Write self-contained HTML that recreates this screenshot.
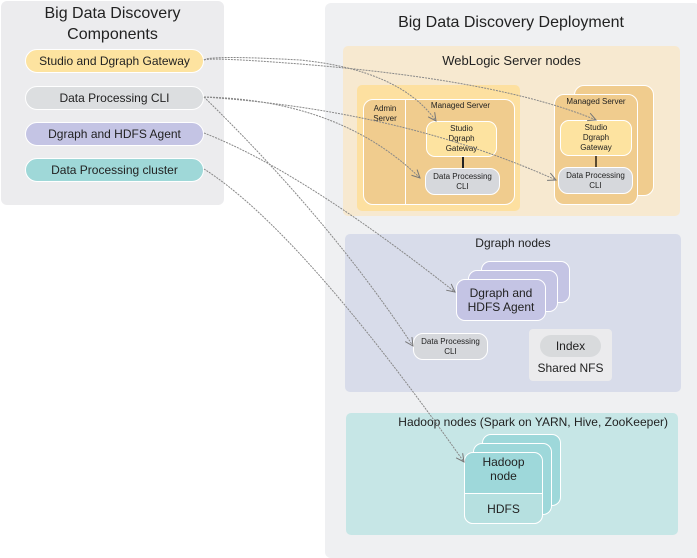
<!DOCTYPE html>
<html><head><style>
body{margin:0;width:697px;height:554px;background:#fff;position:relative;overflow:hidden;font-family:"Liberation Sans",Arial,sans-serif;color:#222}
.a{position:absolute;box-sizing:border-box}
.c{display:flex;align-items:center;justify-content:center;text-align:center}
.pill{border-radius:12px;border:1px solid #fff;font-size:12px}
</style></head><body>
<div class="a" style="left:1px;top:1px;width:223px;height:204px;background:#ececee;border-radius:6px"></div>
<div class="a" style="left:1px;top:3px;width:223px;text-align:center;font-size:16px;line-height:21px">Big Data Discovery<br>Components</div>
<div class="a c pill" style="left:25px;top:49px;width:179px;height:24px;background:#fde3a0">Studio and Dgraph Gateway</div>
<div class="a c pill" style="left:25px;top:86px;width:179px;height:24px;background:#dcdee0">Data Processing CLI</div>
<div class="a c pill" style="left:25px;top:122px;width:179px;height:24px;background:#c4c4e4">Dgraph and HDFS Agent</div>
<div class="a c pill" style="left:25px;top:158px;width:179px;height:24px;background:#9fd8d8">Data Processing cluster</div>

<div class="a" style="left:325px;top:3px;width:375px;height:555px;background:#eff0f2;border-radius:6px"></div>
<div class="a" style="left:325px;top:14px;width:372px;text-align:center;font-size:16px">Big Data Discovery Deployment</div>

<div class="a" style="left:343px;top:46px;width:337px;height:170px;background:#f7e9d0;border-radius:5px"></div>
<div class="a" style="left:343px;top:53px;width:337px;text-align:center;font-size:13px">WebLogic Server nodes</div>
<div class="a" style="left:357px;top:85px;width:163px;height:126px;background:#fde0a0;border-radius:5px"></div>
<div class="a" style="left:363px;top:99px;width:152px;height:106px;background:#f0cc8e;border:1px solid #fff;border-radius:10px"></div>
<div class="a" style="left:405px;top:99px;width:1px;height:106px;background:#fff"></div>
<div class="a" style="left:365px;top:104px;width:40px;text-align:center;font-size:8px;line-height:10px">Admin<br>Server</div>
<div class="a" style="left:406px;top:101px;width:109px;text-align:center;font-size:8px">Managed Server</div>
<div class="a c" style="left:426px;top:121px;width:71px;height:36px;background:#fde3a0;border:1px solid #fff;border-radius:9px;font-size:8px;line-height:10px">Studio<br>Dgraph<br>Gateway</div>
<div class="a" style="left:462px;top:157px;width:2px;height:11px;background:#222"></div>
<div class="a c" style="left:425px;top:168px;width:75px;height:27px;background:#d6d8dc;border:1px solid #fff;border-radius:10px;font-size:8px;line-height:10px">Data Processing<br>CLI</div>

<div class="a" style="left:574px;top:85px;width:80px;height:111px;background:#f0cc8e;border:1px solid #fff;border-radius:10px"></div>
<div class="a" style="left:554px;top:94px;width:84px;height:111px;background:#f0cc8e;border:1px solid #fff;border-radius:10px"></div>
<div class="a" style="left:554px;top:97px;width:84px;text-align:center;font-size:8px">Managed Server</div>
<div class="a c" style="left:560px;top:120px;width:72px;height:36px;background:#fde3a0;border:1px solid #fff;border-radius:9px;font-size:8px;line-height:10px">Studio<br>Dgraph<br>Gateway</div>
<div class="a" style="left:595px;top:156px;width:2px;height:11px;background:#5a4a30"></div>
<div class="a c" style="left:558px;top:167px;width:75px;height:27px;background:#d6d8dc;border:1px solid #fff;border-radius:10px;font-size:8px;line-height:10px">Data Processing<br>CLI</div>

<div class="a" style="left:345px;top:234px;width:336px;height:158px;background:#d8dcea;border-radius:5px"></div>
<div class="a" style="left:345px;top:236px;width:336px;text-align:center;font-size:12px">Dgraph nodes</div>
<div class="a" style="left:481px;top:261px;width:89px;height:42px;background:#c4c4e4;border:1px solid #fff;border-radius:9px"></div>
<div class="a" style="left:468px;top:270px;width:90px;height:42px;background:#c4c4e4;border:1px solid #fff;border-radius:9px"></div>
<div class="a c" style="left:456px;top:279px;width:90px;height:42px;background:#c4c4e4;border:1px solid #fff;border-radius:9px;font-size:12px;line-height:14px">Dgraph and<br>HDFS Agent</div>
<div class="a c" style="left:413px;top:333px;width:75px;height:27px;background:#d6d8dc;border:1px solid #fff;border-radius:10px;font-size:8px;line-height:10px">Data Processing<br>CLI</div>
<div class="a" style="left:529px;top:329px;width:83px;height:52px;background:#ebebed;border-radius:4px"></div>
<div class="a c" style="left:540px;top:335px;width:61px;height:22px;background:#d8dadc;border-radius:11px;font-size:12px">Index</div>
<div class="a" style="left:529px;top:361px;width:83px;text-align:center;font-size:12px">Shared NFS</div>

<div class="a" style="left:346px;top:413px;width:332px;height:122px;background:#c6e6e6;border-radius:5px"></div>
<div class="a" style="left:346px;top:415px;width:322px;text-align:right;font-size:12px">Hadoop nodes (Spark on YARN, Hive, ZooKeeper)</div>
<div class="a" style="left:482px;top:434px;width:79px;height:72px;background:#9ed8da;border:1px solid #fff;border-radius:9px"></div>
<div class="a" style="left:473px;top:443px;width:79px;height:72px;background:#9ed8da;border:1px solid #fff;border-radius:9px"></div>
<div class="a" style="left:464px;top:452px;width:79px;height:72px;background:#9ed8da;border:1px solid #fff;border-radius:9px"></div>
<div class="a" style="left:464px;top:455px;width:79px;text-align:center;font-size:12px;line-height:14px">Hadoop<br>node</div>
<div class="a c" style="left:464px;top:493px;width:79px;height:31px;background:#b6e0e0;border:1px solid #fff;border-radius:0 0 9px 9px;font-size:12px">HDFS</div>

<svg class="a" style="left:0;top:0" width="697" height="554">
<defs><marker id="m" markerWidth="10" markerHeight="10" refX="9" refY="5" orient="auto" markerUnits="userSpaceOnUse"><path d="M1,1 L9,5 L1,9" fill="none" stroke="#777" stroke-width="1"/></marker></defs>
<g fill="none" stroke="#888" stroke-width="1" stroke-dasharray="2,1" marker-end="url(#m)">
<path d="M204,60 Q210,55 300,60 Q400,70 436,121"/>
<path d="M204,60 Q210,57 300,64 Q500,80 596,120"/>
<path d="M204,97 Q340,100 420,178"/>
<path d="M204,97 Q400,110 556,180"/>
<path d="M204,97 Q330,220 413,346"/>
<path d="M204,133 Q300,170 455,292"/>
<path d="M204,169 Q300,230 464,462"/>
</g>
</svg>
</body></html>
